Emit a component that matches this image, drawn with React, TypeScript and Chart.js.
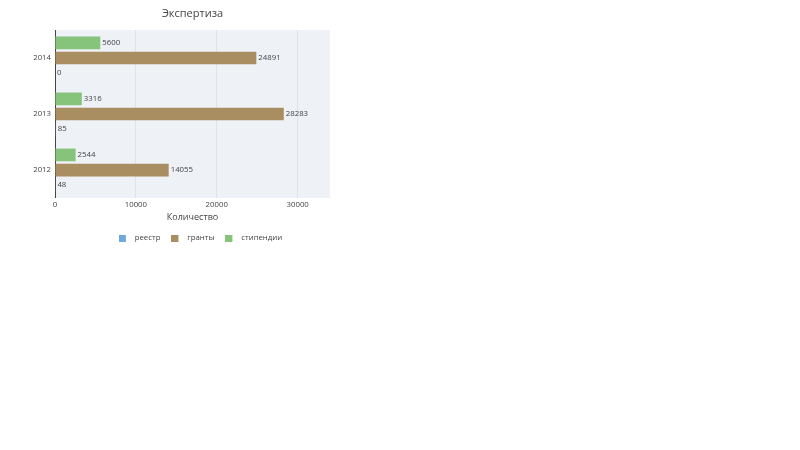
import { useEffect, useRef } from 'react'
import { Chart, registerables } from 'chart.js'

Chart.register(...registerables)

const years = ['2014', '2013', '2012']
// datasets are listed top-to-bottom inside each year
const stipendii = [5600, 3316, 2544]
const granty = [24891, 28283, 14055]
const reestr = [0, 85, 48]
const xTicks = [0, 10000, 20000, 30000]

const FONT = '"Open Sans", sans-serif'
const TEXT = '#444'
const SMALL = 7.8

const plotBg = {
  id: 'plotBg',
  beforeDraw(chart: any) {
    const { ctx, chartArea: a } = chart
    ctx.save()
    ctx.fillStyle = '#eef1f5'
    ctx.fillRect(a.left, a.top, a.right - a.left, a.bottom - a.top)
    ctx.restore()
  },
}

const barLabels = {
  id: 'barLabels',
  afterDatasetsDraw(chart: any) {
    const { ctx } = chart
    ctx.save()
    ctx.font = `${SMALL}px ${FONT}`
    ctx.fillStyle = TEXT
    ctx.textAlign = 'left'
    ctx.textBaseline = 'middle'
    chart.data.datasets.forEach((ds: any, i: number) => {
      chart.getDatasetMeta(i).data.forEach((bar: any, j: number) => {
        ctx.fillText(String(ds.data[j]), bar.x + 2, bar.y)
      })
    })
    ctx.restore()
  },
}

// the reference legend sits a little right of centre
const legendShift = {
  id: 'legendShift',
  afterLayout(chart: any) {
    if (!chart.legend) return
    chart.legend.left += 8
    chart.legend.right += 8
  },
}

// legend swatch: 7px square on the left of a wider transparent box
function swatch(color: string) {
  const c = document.createElement('canvas')
  c.width = 12; c.height = 7
  const g = c.getContext('2d')!
  g.fillStyle = color
  g.fillRect(0, 0, 7, 7)
  return c
}

export default function App() {
  const ref = useRef<HTMLCanvasElement>(null)

  useEffect(() => {
    if (!ref.current) return
    const chart = new Chart(ref.current, {
      type: 'bar',
      data: {
        labels: years,
        datasets: [
          { label: 'стипендии', data: stipendii, backgroundColor: '#85c47a' },
          { label: 'гранты', data: granty, backgroundColor: '#a88e60' },
          { label: 'реестр', data: reestr, backgroundColor: '#6fa8dc' },
        ],
      },
      options: {
        indexAxis: 'y',
        responsive: false,
        animation: false,
        categoryPercentage: 0.81,
        barPercentage: 0.84,
        layout: { padding: 0 },
        plugins: {
          title: {
            display: true, text: 'Экспертиза', color: TEXT,
            font: { family: FONT, size: 11, weight: 'normal' },
            padding: { top: 7.4, bottom: 9.4 },
          },
          legend: {
            position: 'bottom', reverse: true,
            labels: {
              color: TEXT, font: { family: FONT, size: SMALL },
              usePointStyle: true, pointStyleWidth: 12, boxHeight: 7, padding: 11,
              generateLabels: (c: any) =>
                Chart.defaults.plugins.legend.labels.generateLabels(c).map((it: any) => ({
                  ...it, pointStyle: swatch(it.fillStyle),
                })),
            },
          },
          tooltip: { enabled: false },
        },
        scales: {
          x: {
            min: 0, max: 34000,
            afterBuildTicks: (s: any) => { s.ticks = xTicks.map(v => ({ value: v })) },
            ticks: {
              color: TEXT, font: { family: FONT, size: SMALL }, padding: 2.2,
              callback: (v: any) => String(v),
            },
            grid: {
              drawTicks: false,
              color: (c: any) => (c.tick && c.tick.value === 0 ? '#444' : '#dfe3e8'),
            },
            border: { display: false },
            title: {
              display: true, text: 'Количество', color: TEXT,
              font: { family: FONT, size: 9 }, padding: { top: 0, bottom: 0.6 },
            },
          },
          y: {
            grid: { display: false, drawTicks: false },
            border: { display: false },
            ticks: { color: TEXT, font: { family: FONT, size: SMALL }, padding: 4 },
            afterFit: (s: any) => { s.width = 55 },
          },
          y2: {
            type: 'category', position: 'right',
            grid: { display: false, drawTicks: false },
            border: { display: false },
            ticks: { display: false },
            afterFit: (s: any) => { s.width = 55 },
          },
        },
      },
      plugins: [plotBg, barLabels, legendShift],
    } as any)
    return () => chart.destroy()
  }, [])

  return (
    <div style={{ position: 'absolute', left: 0, top: 0 }}>
      <canvas ref={ref} width={385} height={252} />
    </div>
  )
}
